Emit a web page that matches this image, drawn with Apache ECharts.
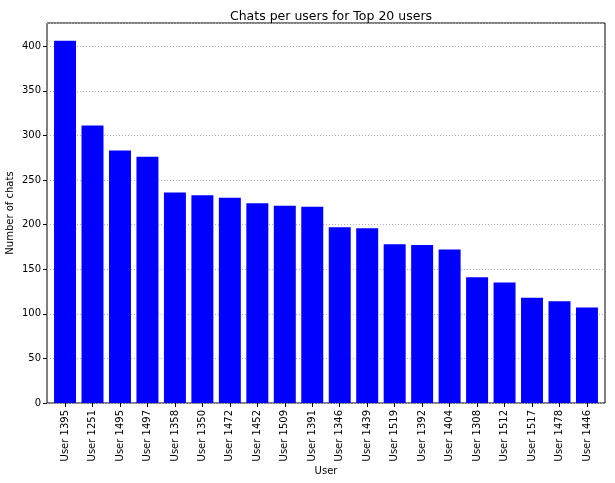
<!DOCTYPE html>
<html>
<head>
<meta charset="utf-8">
<script src="https://cdn.jsdelivr.net/npm/echarts@6/dist/echarts.min.js"></script>
<style>
  html, body { margin: 0; padding: 0; background: #fff; }
  #chart { width: 615px; height: 483px; }
</style>
</head>
<body>
<div id="chart"></div>
<script>
var users = ['User 1395', 'User 1251', 'User 1495', 'User 1497', 'User 1358',
    'User 1350', 'User 1472', 'User 1452', 'User 1509', 'User 1391',
    'User 1346', 'User 1439', 'User 1519', 'User 1392', 'User 1404',
    'User 1308', 'User 1512', 'User 1517', 'User 1478', 'User 1446'];
var chats = [406, 311, 283, 276, 236, 233, 230, 224, 221, 220,
    197, 196, 178, 177, 172, 141, 135, 118, 114, 107];
var yTicks = [0, 50, 100, 150, 200, 250, 300, 350, 400];

var font = 'DejaVu Sans';
var chart = echarts.init(document.getElementById('chart'));
var option = {
    animation: false,
    title: {
        text: 'Chats per users for Top 20 users',
        left: 326,
        top: 5,
        textAlign: 'center',
        textStyle: {
            fontFamily: font,
            fontSize: 12.5,
            fontWeight: 'normal',
            color: '#000'
        }
    },
    grid: [{
        // frame (spines)
        left: 47, right: 10, top: 23, bottom: 80,
        outerBoundsMode: 'none',
        containLabel: false,
        show: true,
        borderColor: '#000',
        borderWidth: 1,
        backgroundColor: 'transparent'
    }, {
        // data area, a bit inset like matplotlib margins
        left: 51.3, right: 14.3, top: 23, bottom: 80,
        outerBoundsMode: 'none',
        containLabel: false
    }],
    xAxis: [{
        gridIndex: 0,
        type: 'value',
        show: false
    }, {
        gridIndex: 1,
        type: 'category',
        data: users,
        name: 'User',
        nameLocation: 'middle',
        nameGap: 63,
        nameMoveOverlap: false,
        nameTextStyle: { fontFamily: font, fontSize: 10, color: '#000' },
        axisLine: { show: false },
        axisTick: { show: true, alignWithLabel: true, length: 4, lineStyle: { color: '#000' } },
        axisLabel: {
            rotate: 90,
            interval: 0,
            margin: 7,
            fontFamily: font,
            fontSize: 10,
            color: '#000'
        }
    }],
    yAxis: [{
        gridIndex: 0,
        type: 'value',
        min: 0,
        max: 426,
        interval: 50,
        name: 'Number of chats',
        nameLocation: 'middle',
        nameGap: 32,
        nameMoveOverlap: false,
        nameTextStyle: { fontFamily: font, fontSize: 10, color: '#000' },
        axisLine: { show: false },
        axisTick: { show: true, length: 4, lineStyle: { color: '#000' } },
        axisLabel: {
            fontFamily: font,
            fontSize: 10,
            color: '#000',
            margin: 6,
            showMaxLabel: false,
            formatter: function (v) { return yTicks.indexOf(v) >= 0 ? v : ''; }
        },
        splitLine: {
            show: true,
            lineStyle: { color: '#b0b0b0', type: [1, 2], width: 1 }
        }
    }, {
        gridIndex: 1,
        type: 'value',
        min: 0,
        max: 426,
        show: false,
        splitLine: { show: false }
    }],
    series: [{
        type: 'bar',
        xAxisIndex: 1,
        yAxisIndex: 1,
        data: chats,
        barWidth: '80%',
        itemStyle: { color: '#0000ff' }
    }]
};
chart.setOption(option);
</script>
</body>
</html>
